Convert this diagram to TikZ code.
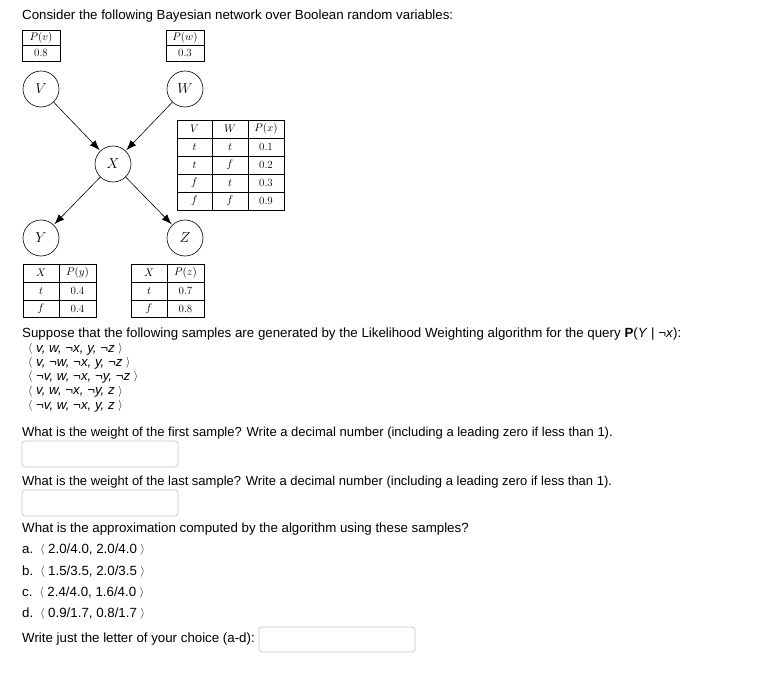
\documentclass[tikz,border=0pt]{standalone}
\usepackage{fontspec}
\newfontfamily\arial{Liberation Sans}
\usetikzlibrary{arrows.meta}
\newcommand{\lang}{\raisebox{0.8pt}{\fontsize{10.5}{12}\selectfont$\langle$}}
\newcommand{\rang}{\raisebox{0.8pt}{\fontsize{10.5}{12}\selectfont$\rangle$}}
\begin{document}
\begin{tikzpicture}[x=1pt,y=-1pt,
  txt/.style={anchor=base west, inner sep=0pt, font=\arial\fontsize{13.3}{16}\selectfont},
  txtn/.style={txt, font=\arial\fontsize{13}{16}\selectfont},
  cpt/.style={inner sep=0pt, font=\fontsize{11}{13}\selectfont},
  var/.style={circle, draw, line width=0.6pt, minimum size=36pt, inner sep=0pt, font=\fontsize{14}{16}\selectfont},
  edge/.style={-{Latex[length=10pt,width=7.5pt]}, line width=0.6pt, shorten >=1pt},
  tab/.style={line width=0.6pt},
  ansbox/.style={draw=black!22, rounded corners=3pt, line width=0.7pt}]
\useasboundingbox (0,0) rectangle (771,682);
\fill[white] (0,0) rectangle (771,682);

\node[txt] (title) at (22,20) {Consider the following Bayesian network over Boolean random variables:};

% P(v), P(w) tables
\draw[tab] (22,30) rectangle (60,61) (22,45) -- (60,45);
\node[cpt] (pvh) at (41,37.5) {$P(v)$};
\node[cpt] (pvv) at (41,53) {0.8};
\draw[tab] (166,30) rectangle (204,61) (166,45) -- (204,45);
\node[cpt] (pwh) at (185,37.5) {$P(w)$};
\node[cpt] (pwv) at (185,53) {0.3};

% network
\node[var] (V) at (41,89) {$V$};
\node[var] (W) at (185,89) {$W$};
\node[var] (X) at (113,164) {$X$};
\node[var] (Y) at (41,238) {$Y$};
\node[var] (Z) at (185,238) {$Z$};
\draw[edge] (V) -- (X);
\draw[edge] (W) -- (X);
\draw[edge] (X) -- (Y);
\draw[edge] (X) -- (Z);

% CPT of X
\draw[tab] (177,120) rectangle (284,210);
\foreach \yy in {138,156,174,192} \draw[tab] (177,\yy) -- (284,\yy);
\draw[tab] (212,120) -- (212,210) (248,120) -- (248,210);
\node[cpt] (xh1) at (194.5,129) {$V$};
\node[cpt] (xh2) at (230,129) {$W$};
\node[cpt] (xh3) at (266,129) {$P(x)$};
\node[cpt] (x11) at (194.5,147) {$t$};
\node[cpt] (x12) at (230,147) {$t$};
\node[cpt] (x13) at (266,147) {0.1};
\node[cpt] (x21) at (194.5,165) {$t$};
\node[cpt] (x22) at (230,165) {$f$};
\node[cpt] (x23) at (266,165) {0.2};
\node[cpt] (x31) at (194.5,183) {$f$};
\node[cpt] (x32) at (230,183) {$t$};
\node[cpt] (x33) at (266,183) {0.3};
\node[cpt] (x41) at (194.5,201) {$f$};
\node[cpt] (x42) at (230,201) {$f$};
\node[cpt] (x43) at (266,201) {0.9};

% CPT of Y
\draw[tab] (23,264) rectangle (96,317) (23,282) -- (96,282) (23,300) -- (96,300) (59,264) -- (59,317);
\node[cpt] (yh1) at (41,273) {$X$};
\node[cpt] (yh2) at (77.5,273) {$P(y)$};
\node[cpt] (y11) at (41,291) {$t$};
\node[cpt] (y12) at (77.5,291) {0.4};
\node[cpt] (y21) at (41,308.5) {$f$};
\node[cpt] (y22) at (77.5,308.5) {0.4};

% CPT of Z
\draw[tab] (131,264) rectangle (204,317) (131,282) -- (204,282) (131,300) -- (204,300) (167,264) -- (167,317);
\node[cpt] (zh1) at (149,273) {$X$};
\node[cpt] (zh2) at (185.5,273) {$P(z)$};
\node[cpt] (z11) at (149,291) {$t$};
\node[cpt] (z12) at (185.5,291) {0.7};
\node[cpt] (z21) at (149,308.5) {$f$};
\node[cpt] (z22) at (185.5,308.5) {0.8};

% question text
\node[txt] (q1) at (22,337) {Suppose that the following samples are generated by the Likelihood Weighting algorithm for the query \textbf{P}(\textit{Y} | ¬\textit{x}):};
\node[txt] (s1) at (28,352) {\lang\ \textit{v, w, ¬x, y, ¬z} \rang};
\node[txt] (s2) at (28,366.3) {\lang\ \textit{v, ¬w, ¬x, y, ¬z} \rang};
\node[txt] (s3) at (28,380.6) {\lang\ \textit{¬v, w, ¬x, ¬y, ¬z} \rang};
\node[txt] (s4) at (28,394.9) {\lang\ \textit{v, w, ¬x, ¬y, z} \rang};
\node[txt] (s5) at (28,409.2) {\lang\ \textit{¬v, w, ¬x, y, z} \rang};

\node[txtn] (q2) at (22,436) {What is the weight of the first sample? Write a decimal number (including a leading zero if less than 1).};
\draw[ansbox] (22,441) rectangle (178,467);
\node[txtn] (q3) at (22,485) {What is the weight of the last sample? Write a decimal number (including a leading zero if less than 1).};
\draw[ansbox] (22,490) rectangle (178,516);

\node[txt] (q4) at (22,532) {What is the approximation computed by the algorithm using these samples?};
\node[txt] (a) at (22,553) {a.\hspace{7pt}\lang\ 2.0/4.0, 2.0/4.0 \rang};
\node[txt] (b) at (22,575) {b.\hspace{7pt}\lang\ 1.5/3.5, 2.0/3.5 \rang};
\node[txt] (c) at (22,596) {c.\hspace{7pt}\lang\ 2.4/4.0, 1.6/4.0 \rang};
\node[txt] (d) at (22,617) {d.\hspace{7pt}\lang\ 0.9/1.7, 0.8/1.7 \rang};
\node[txt] (q5) at (22,642) {Write just the letter of your choice (a-d):};
\draw[ansbox] (259,627) rectangle (415,652);
\end{tikzpicture}
\end{document}
